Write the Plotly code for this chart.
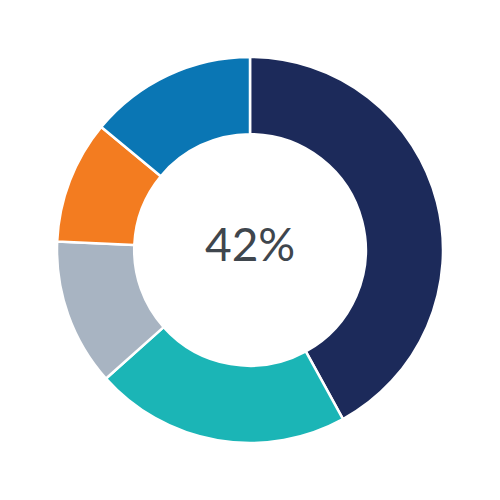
import plotly.graph_objects as go

# slices clockwise from 12 o'clock
segments = ["Navy", "Teal", "Gray", "Orange", "Blue"]
shares = [42, 21.4, 12.3, 10.3, 14.0]
colors = ["#1c2a5a", "#1bb5b6", "#a8b4c2", "#f37c20", "#0a76b4"]
center_label = "42%"

fig = go.Figure(go.Pie(
    labels=segments,
    values=shares,
    hole=0.6,
    sort=False,
    direction="clockwise",
    rotation=0,
    textinfo="none",
    marker=dict(colors=colors, line=dict(color="white", width=2.5)),
    showlegend=False,
))

# page has an 8px body margin, so shift the plot area up/left
fig.add_annotation(text=center_label, x=0.5, y=0.5, xref="paper", yref="paper",
                   yshift=7, showarrow=False,
                   font=dict(family="Lato", size=46, color="#3f464d"))

fig.update_layout(
    width=500, height=500,
    margin=dict(l=49, r=65, t=49, b=65),
    paper_bgcolor="white",
)

fig.write_html("out.html")
